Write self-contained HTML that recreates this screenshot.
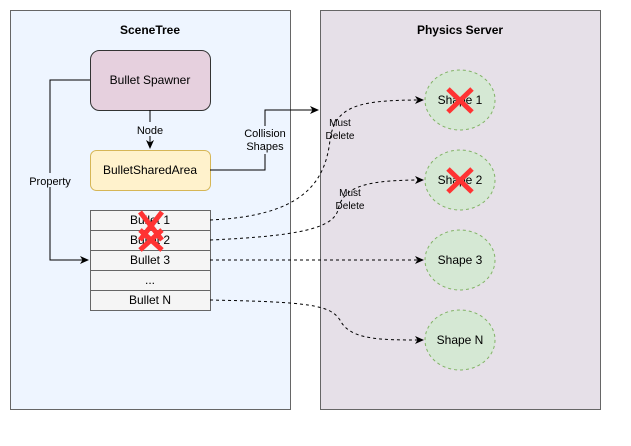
<!DOCTYPE html>
<html><head><style>body{margin:0;background:#fff}svg{font-family:"Liberation Sans",Helvetica,sans-serif}</style></head><body>
<svg width="631" height="441" viewBox="0 0 631 441" xmlns="http://www.w3.org/2000/svg">
<defs><marker id="a" markerWidth="10" markerHeight="10" refX="8" refY="5" orient="auto" markerUnits="userSpaceOnUse"><path d="M0,1 L9,5 L0,9 L2.5,5 Z" fill="#000"/></marker></defs>
<rect x="10.5" y="10.5" width="280" height="399" fill="#eef5ff" stroke="#666"/>
<rect x="320.5" y="10.5" width="280" height="399" fill="#e6e0e8" stroke="#666"/>
<text x="150" y="34" font-size="12" font-weight="bold" text-anchor="middle">SceneTree</text>
<text x="460" y="34" font-size="12" font-weight="bold" text-anchor="middle">Physics Server</text>
<rect x="90.5" y="50.5" width="120" height="60" rx="9" fill="#e6d0de" stroke="#333"/>
<text x="150" y="84" font-size="12" text-anchor="middle">Bullet Spawner</text>
<rect x="90.5" y="150.5" width="120" height="40" rx="6" fill="#fff2cc" stroke="#d6b656"/>
<text x="150" y="174" font-size="12" text-anchor="middle">BulletSharedArea</text>
<g fill="#f5f5f5" stroke="#666"><rect x="90.5" y="210.5" width="120" height="20"/><rect x="90.5" y="230.5" width="120" height="20"/><rect x="90.5" y="250.5" width="120" height="20"/><rect x="90.5" y="270.5" width="120" height="20"/><rect x="90.5" y="290.5" width="120" height="20"/></g>
<g font-size="12" text-anchor="middle"><text x="150" y="224">Bullet 1</text><text x="150" y="244">Bullet 2</text><text x="150" y="264">Bullet 3</text><text x="150" y="284">...</text><text x="150" y="304">Bullet N</text></g>
<g fill="#d5e8d4" stroke="#82b366" stroke-dasharray="3,3"><ellipse cx="460" cy="100" rx="35" ry="30"/><ellipse cx="460" cy="180" rx="35" ry="30"/><ellipse cx="460" cy="260" rx="35" ry="30"/><ellipse cx="460" cy="340" rx="35" ry="30"/></g>
<g font-size="12" text-anchor="middle"><text x="460" y="104">Shape 1</text><text x="460" y="184">Shape 2</text><text x="460" y="264">Shape 3</text><text x="460" y="344">Shape N</text></g>
<g stroke="#ff3333" stroke-width="5"><path d="M140 212 L162 240 M162 212 L140 240"/><path d="M140 230 L162 250 M162 230 L140 250"/><path d="M448 89 L472 112 M472 89 L448 112"/><path d="M448 169 L472 192 M472 169 L448 192"/></g>
<g fill="none" stroke="#000">
<path d="M150 110 V148" marker-end="url(#a)"/>
<path d="M90 80 H50 V260 H88" marker-end="url(#a)"/>
<path d="M210 170 H265 V110 H318" marker-end="url(#a)"/>
</g>
<g fill="none" stroke="#000" stroke-dasharray="3,3">
<path d="M210 220 C300 216 325 185 330 140 C335 105 360 100 423 100" marker-end="url(#a)"/>
<path d="M210 240 C300 236 333 228 338 210 C343 185 370 180 423 180" marker-end="url(#a)"/>
<path d="M210 260 H423" marker-end="url(#a)"/>
<path d="M210 300 C310 302 330 305 340 320 C350 340 380 340 423 340" marker-end="url(#a)"/>
</g>
<rect x="132" y="122" width="36" height="14" fill="#eef5ff"/>
<text x="150" y="134" font-size="11" text-anchor="middle">Node</text>
<rect x="26" y="173" width="48" height="14" fill="#eef5ff"/>
<text x="50" y="185" font-size="11" text-anchor="middle">Property</text>
<rect x="243" y="126" width="44" height="28" fill="#eef5ff"/>
<text x="265" y="137" font-size="11" text-anchor="middle">Collision</text>
<text x="265" y="150" font-size="11" text-anchor="middle">Shapes</text>
<g font-size="10" text-anchor="middle"><text x="340" y="126">Must</text><text x="340" y="139">Delete</text><text x="350" y="196">Must</text><text x="350" y="209">Delete</text></g>
</svg>
</body></html>
